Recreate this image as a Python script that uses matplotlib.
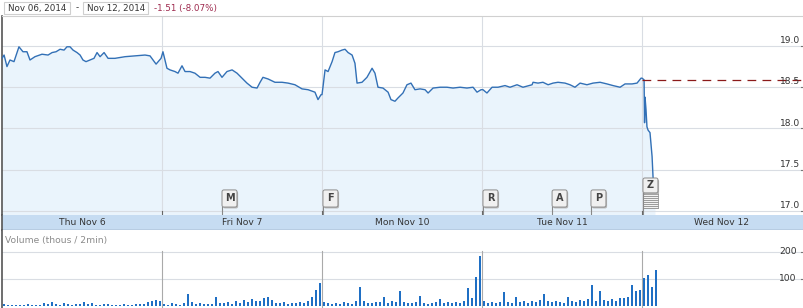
import matplotlib
matplotlib.use('Agg')
import matplotlib.pyplot as plt
import matplotlib.transforms as mtransforms
from matplotlib.patches import FancyBboxPatch, Rectangle
import numpy as np

# header text
header_from = 'Nov 06, 2014'
header_to = 'Nov 12, 2014'
header_change = '-1.51 (-8.07%)'

day_labels = ['Thu Nov 6', 'Fri Nov 7', 'Mon Nov 10', 'Tue Nov 11', 'Wed Nov 12']

# price per session: t = fraction of the trading session (0 open, 1 close)
thu_t = [0.000, 0.013, 0.031, 0.050, 0.075, 0.106, 0.131, 0.156, 0.175, 0.206,
         0.250, 0.288, 0.313, 0.338, 0.363, 0.388, 0.406, 0.425, 0.444, 0.469,
         0.488, 0.506, 0.525, 0.550, 0.575, 0.594, 0.613, 0.638, 0.663, 0.706,
         0.769, 0.831, 0.894, 0.925, 0.944, 0.963, 0.981, 0.994]
thu_p = [18.85, 18.89, 18.75, 18.83, 18.81, 18.99, 18.93, 18.93, 18.83, 18.87,
         18.90, 18.89, 18.92, 18.93, 18.96, 18.95, 18.99, 18.99, 18.95, 18.92,
         18.89, 18.83, 18.81, 18.83, 18.85, 18.92, 18.87, 18.92, 18.85, 18.85,
         18.87, 18.88, 18.89, 18.88, 18.83, 18.78, 18.82, 18.85]

fri_t = [0.006, 0.031, 0.050, 0.081, 0.100, 0.125, 0.144, 0.175, 0.206, 0.238,
         0.269, 0.300, 0.331, 0.350, 0.375, 0.406, 0.438, 0.469, 0.500, 0.531,
         0.563, 0.594, 0.613, 0.631, 0.663, 0.706, 0.750, 0.788, 0.831, 0.875,
         0.913, 0.956, 0.975, 0.994]
fri_p = [18.93, 18.73, 18.71, 18.69, 18.67, 18.76, 18.69, 18.69, 18.67, 18.62,
         18.62, 18.61, 18.67, 18.69, 18.62, 18.69, 18.71, 18.67, 18.61, 18.55,
         18.50, 18.49, 18.56, 18.62, 18.60, 18.56, 18.56, 18.55, 18.53, 18.48,
         18.47, 18.44, 18.35, 18.41]

mon_t = [0.000, 0.006, 0.019, 0.038, 0.063, 0.081, 0.100, 0.125, 0.144, 0.163,
         0.188, 0.206, 0.219, 0.250, 0.281, 0.313, 0.331, 0.350, 0.381, 0.413,
         0.431, 0.456, 0.475, 0.506, 0.531, 0.556, 0.581, 0.613, 0.644, 0.663,
         0.694, 0.738, 0.781, 0.819, 0.863, 0.906, 0.944, 0.969, 0.994]
mon_p = [18.41, 18.50, 18.71, 18.69, 18.81, 18.92, 18.93, 18.95, 18.96, 18.92,
         18.89, 18.79, 18.55, 18.56, 18.62, 18.73, 18.67, 18.50, 18.49, 18.44,
         18.35, 18.33, 18.37, 18.43, 18.53, 18.55, 18.47, 18.48, 18.47, 18.43,
         18.49, 18.50, 18.50, 18.49, 18.50, 18.49, 18.50, 18.44, 18.47]

tue_t = [0.006, 0.031, 0.063, 0.100, 0.144, 0.175, 0.219, 0.256, 0.313, 0.319,
         0.350, 0.381, 0.413, 0.444, 0.475, 0.519, 0.550, 0.581, 0.613, 0.656,
         0.694, 0.738, 0.781, 0.819, 0.863, 0.894, 0.938, 0.969, 0.994]
tue_p = [18.47, 18.43, 18.50, 18.50, 18.52, 18.50, 18.53, 18.50, 18.53, 18.56,
         18.55, 18.56, 18.53, 18.55, 18.56, 18.55, 18.53, 18.50, 18.55, 18.53,
         18.55, 18.56, 18.54, 18.52, 18.50, 18.54, 18.54, 18.55, 18.61]

wed_t = [0.000, 0.013, 0.016, 0.019, 0.025, 0.031, 0.038, 0.050, 0.063, 0.069, 0.081]
wed_p = [18.61, 18.59, 18.07, 18.38, 18.23, 18.02, 17.98, 17.95, 17.66, 17.41, 17.09]

prev_close = 18.59
price_ticks = [17.0, 17.5, 18.0, 18.5, 19.0]

# volume (thousands), 40 bars per session
thu_vol = [8, 4, 3, 5, 3, 4, 6, 4, 3, 5, 12, 6, 14, 8, 5, 11, 6, 4, 9, 7,
           16, 6, 10, 5, 4, 8, 6, 3, 5, 4, 6, 5, 4, 6, 9, 7, 14, 18, 22, 20]
fri_vol = [6, 4, 10, 6, 5, 12, 43, 14, 8, 10, 7, 6, 9, 32, 12, 10, 15, 8, 18, 12,
           22, 14, 25, 18, 20, 28, 32, 22, 12, 10, 14, 9, 12, 10, 15, 12, 18, 35, 60, 85]
mon_vol = [14, 10, 8, 12, 9, 15, 11, 8, 18, 72, 20, 12, 10, 16, 14, 32, 12, 18, 14, 54,
           15, 10, 12, 14, 36, 12, 9, 11, 13, 25, 10, 14, 12, 16, 11, 18, 68, 30, 107, 185]
tue_vol = [20, 12, 15, 10, 14, 50, 16, 12, 32, 14, 18, 12, 20, 15, 22, 43, 18, 14, 20, 16,
           12, 32, 18, 15, 22, 18, 25, 79, 20, 54, 22, 18, 25, 20, 28, 30, 35, 79, 55, 60]
wed_vol = [104, 114, 70, 132]
vol_ticks = [100, 200]

# event flags (time in days from Thu open)
flag_labels = ['M', 'F', 'R', 'A', 'P', 'Z']
flag_times = [1.375, 2.006, 3.006, 3.438, 3.681, 4.006]

W, H = 804, 308
fig = plt.figure(figsize=(W / 100, H / 100), dpi=100)
fig.patch.set_facecolor('white')

def fx(px):
    return px / W

def fy(px):
    return 1 - px / H

xmax = 802 / 160.0
line_c = '#3270b6'
grid_c = '#d9dde3'
txt_c = '#333333'
fs = 6.6

# ---- price panel
ax = fig.add_axes([fx(2), fy(215), fx(802), 199 / H])
sessions = [(thu_t, thu_p), (fri_t, fri_p), (mon_t, mon_p), (tue_t, tue_p), (wed_t, wed_p)]
xs = np.concatenate([np.array(t) + i for i, (t, p) in enumerate(sessions)])
ps = np.concatenate([np.array(p) for t, p in sessions])
ymin, ymax = 16.952, 19.363
ax.set_xlim(0, xmax)
ax.set_ylim(ymin, ymax)
ax.fill_between(xs, ps, ymin - 1, color='#eaf4fc', lw=0, zorder=1)
ax.plot(xs, ps, color=line_c, lw=1.0, zorder=3)
for v in price_ticks:
    ax.axhline(v, color=grid_c, lw=0.8, zorder=2)
    ax.text(0.995, v + 0.01, f'{v:.1f}', transform=ax.get_yaxis_transform(),
            ha='right', va='bottom', fontsize=fs, color=txt_c, zorder=4)
    ax.plot([0.996, 1.0], [v, v], transform=ax.get_yaxis_transform(), color='#777', lw=0.8)
for d in range(1, 5):
    ax.axvline(d, color=grid_c, lw=0.8, zorder=2)
    ax.plot([d, d], [0, 0.02], transform=ax.get_xaxis_transform(), color='#666', lw=0.8, zorder=2)
ax.plot([4, xmax], [prev_close, prev_close], color='#8b1a1a', lw=0.9,
        dashes=(7, 5), zorder=3)
ax.set_xticks([])
ax.set_yticks([])
for s in ['right', 'bottom']:
    ax.spines[s].set_visible(False)
ax.spines['top'].set_color('#d0d0d0')
ax.spines['top'].set_linewidth(0.8)
ax.spines['left'].set_color('#555555')
ax.spines['left'].set_linewidth(1.2)

# event flags
trans = mtransforms.blended_transform_factory(ax.transData, ax.transAxes)
bw = 15 / 160.0
for lab, t in zip(flag_labels, flag_times):
    if lab == 'Z':
        yb, yt = 0.111, 0.186
        for yy in np.linspace(0.035, 0.105, 8):
            ax.plot([t, t + bw], [yy, yy], transform=trans, color='#9a9a9a', lw=0.7, zorder=5)
        ax.add_patch(Rectangle((t, 0.035), bw, 0.076, transform=trans, fc='#f2f2f2',
                               ec='#9a9a9a', lw=0.6, zorder=4))
    else:
        yb, yt = 0.040, 0.126
    ax.plot([t, t], [0, yb], transform=trans, color='#888888', lw=0.8, zorder=5)
    ax.add_patch(FancyBboxPatch((t + 0.007, yb - 0.007), bw, yt - yb,
                                boxstyle='round,pad=0,rounding_size=0.012', mutation_aspect=0.8,
                                transform=trans, fc='#b8b8b8', ec='none', zorder=5))
    ax.add_patch(FancyBboxPatch((t, yb), bw, yt - yb,
                                boxstyle='round,pad=0,rounding_size=0.012', mutation_aspect=0.8,
                                transform=trans, fc='#f0f0f0', ec='#8c8c8c', lw=0.7, zorder=6))
    ax.text(t + bw / 2, (yb + yt) / 2, lab, transform=trans, ha='center', va='center',
            fontsize=7, fontweight='bold', color='#444444', zorder=7)

# ---- date band
axb = fig.add_axes([fx(2), fy(230), fx(802), 15 / H])
axb.set_facecolor('#c6dcf2')
axb.set_xlim(0, xmax)
axb.set_ylim(0, 1)
for i, lab in enumerate(day_labels):
    axb.text(i + 0.5, 0.5, lab, ha='center', va='center', fontsize=fs, color=txt_c)
axb.set_xticks([])
axb.set_yticks([])
for s in ['top', 'right']:
    axb.spines[s].set_visible(False)
axb.spines['bottom'].set_color('#7d8ea3')
axb.spines['bottom'].set_linewidth(1.0)
axb.spines['left'].set_color('#555555')
axb.spines['left'].set_linewidth(1.2)

# ---- volume panel
axv = fig.add_axes([fx(2), 0, fx(802), 78 / H])
axv.set_xlim(0, xmax)
axv.set_ylim(-7.4, 281)
for i, vol in enumerate([thu_vol, fri_vol, mon_vol, tue_vol, wed_vol]):
    bx = i + (np.arange(len(vol)) + 0.5) / 40.0
    axv.bar(bx, vol, width=0.018, color='#1f6fc4', lw=0, zorder=3)
for v in vol_ticks:
    axv.plot([0, 0.996], [v, v], transform=axv.get_yaxis_transform(), color=grid_c, lw=0.8, zorder=1)
    axv.plot([0.996, 1.0], [v, v], transform=axv.get_yaxis_transform(), color='#777', lw=0.8)
    axv.text(0.991, v, str(v), transform=axv.get_yaxis_transform(), ha='right', va='center',
             fontsize=fs, color=txt_c)
for d in range(1, 5):
    axv.plot([d, d], [-7.4, 203], color='#aaaaaa', lw=0.8, zorder=2)
axv.text(0.004, 244, 'Volume (thous / 2min)', transform=axv.get_yaxis_transform(),
         ha='left', va='center', fontsize=fs, color='#8a8a8a')
axv.set_xticks([])
axv.set_yticks([])
for s in ['top', 'right', 'bottom']:
    axv.spines[s].set_visible(False)
axv.spines['left'].set_color('#555555')
axv.spines['left'].set_linewidth(1.2)

# ---- header
for x0, x1, txt in [(4, 70, header_from), (83, 148, header_to)]:
    fig.add_artist(Rectangle((fx(x0), fy(14)), fx(x1 - x0), 12 / H, transform=fig.transFigure,
                             fc='white', ec='#cfcfcf', lw=0.8))
    fig.text(fx(x0 + 4), fy(8), txt, ha='left', va='center', fontsize=6.3, color=txt_c)
fig.text(fx(76), fy(8), '-', ha='left', va='center', fontsize=6.3, color=txt_c)
fig.text(fx(154), fy(8), header_change, ha='left', va='center', fontsize=6.3, color='#9e2a4e')

fig.savefig('out.png', dpi=100)
